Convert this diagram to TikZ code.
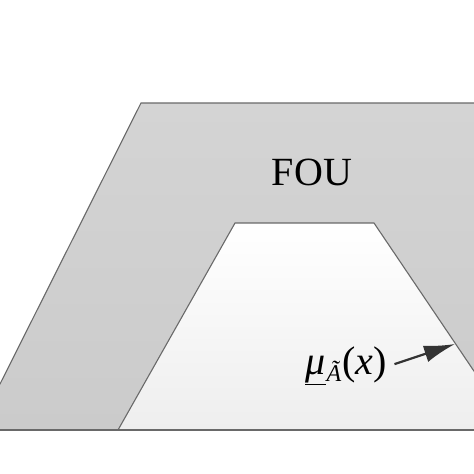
\documentclass[tikz,border=0pt]{standalone}
\usepackage{fontspec}
\setmainfont{Liberation Serif}
\usetikzlibrary{arrows.meta,positioning,calc}
\definecolor{FouGray}{RGB}{212,212,212}
\definecolor{FouGrayLow}{RGB}{203,203,203}
\definecolor{LowWhite}{RGB}{238,238,238}
\definecolor{EdgeGray}{RGB}{105,105,105}

\begin{document}
\begin{tikzpicture}[x=1pt, y=-1pt, every node/.style={font=\fontsize{40}{44}\selectfont}]
\useasboundingbox (0,0) rectangle (474,474);
\clip (0,0) rectangle (474,474);
% upper membership function (gray band)
\shade[top color=FouGray, bottom color=FouGrayLow, draw=EdgeGray, line width=1.1pt]
  (-2,430) -- (-2,384) -- (0,384) -- (141,103) -- (480,103) -- (480,432) -- (-2,432) -- cycle;
% lower membership function (light area)
\shade[top color=white, bottom color=LowWhite, draw=EdgeGray, line width=1.1pt]
  (118,430) -- (235,223) -- (374,223) -- (480,380) -- (480,430) -- cycle;
% axis line
\draw[EdgeGray, line width=1.1pt] (-2,430) -- (480,430);
\fill[white] (-2,431) rectangle (480,480);

\node (fou) at (312,172) {FOU};
\node[inner sep=2pt] (mulabel) at (346,366) {\underline{\itshape μ\vphantom{p}}\kern1pt\raisebox{-0.35ex}{\fontsize{24}{26}\selectfont\itshape Ã}\kern1pt(\textit{x})};
\coordinate (mutip) at (455,344);
\draw[-{Latex[length=31pt,width=17pt]}, line width=2.2pt, black!80, shorten <=6pt] (mulabel.east) -- (mutip);
\end{tikzpicture}
\end{document}
